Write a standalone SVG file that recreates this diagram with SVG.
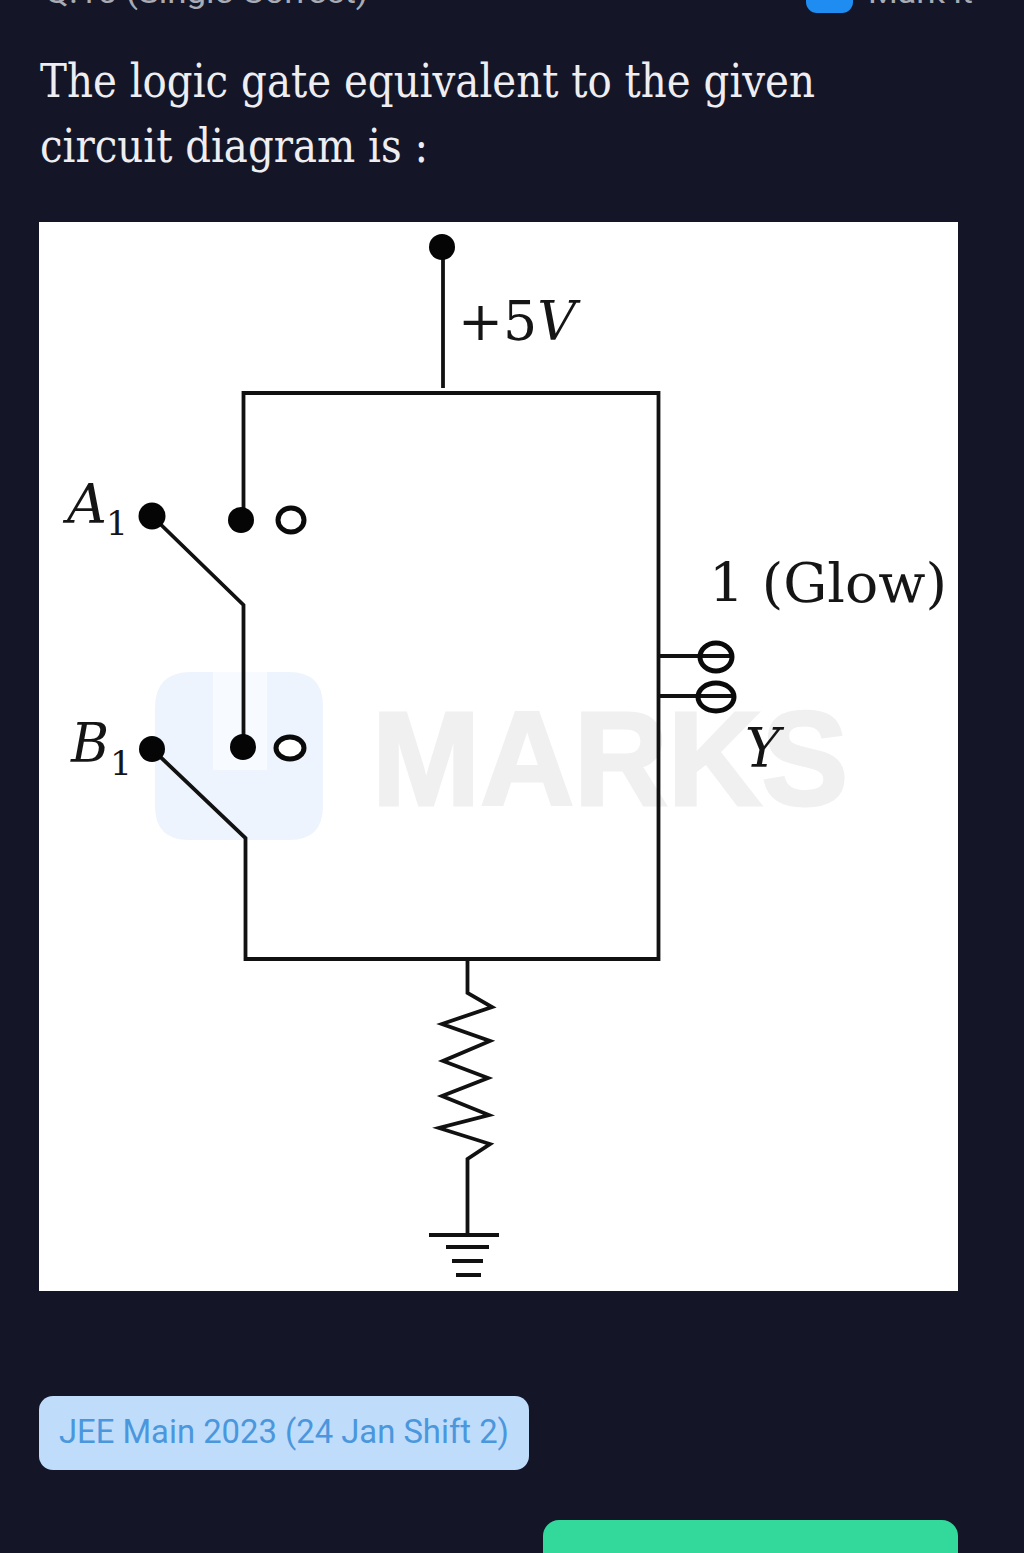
<svg xmlns="http://www.w3.org/2000/svg" width="1024" height="1553" viewBox="0 0 1024 1553">
<style>
.w{fill:none;stroke:#111;stroke-width:3.800;stroke-linejoin:miter}
.d{fill:#050505}
.o{fill:#fff;stroke:#0a0a0a;stroke-width:5}
.t{font-family:"DejaVu Serif",serif;fill:#151515}
.q{font-family:"DejaVu Serif",serif;fill:#eeeef2;font-size:47px}
.m{font-style:italic}
</style>
<rect width="1024" height="1553" fill="#141628"/>
<g id="header">
<text x="45" y="3" font-family="Roboto,sans-serif" font-size="31" fill="#a9abb5" textLength="323" lengthAdjust="spacingAndGlyphs">Q.10 (Single Correct)</text>
<rect x="806" y="-30" width="47" height="43" rx="11" fill="#1e8cf0"/>
<text x="868" y="3" font-family="Roboto,sans-serif" font-size="30" fill="#a9abb5" textLength="105" lengthAdjust="spacingAndGlyphs">Mark it</text>
</g>
<g id="question">
<text class="q" x="40" y="97" textLength="775" lengthAdjust="spacingAndGlyphs">The logic gate equivalent to the given</text>
<text class="q" x="40" y="162" textLength="388" lengthAdjust="spacingAndGlyphs">circuit diagram is :</text>
</g>
<rect id="panel" x="39" y="222" width="919" height="1069" fill="#fff"/>
<g id="watermark">
<path d="M191 672H213V770H267V672H289Q323 672 323 706V806Q323 840 289 840H189Q155 840 155 806V708Q155 672 191 672Z" fill="#edf4fd"/>
<path d="M213 672H267V770H213Z" fill="#f7fafe"/>
<text x="372" y="805" font-family="Liberation Sans,sans-serif" font-weight="700" font-size="133" fill="#f0f0f0" stroke="#f0f0f0" stroke-width="3" textLength="476" lengthAdjust="spacingAndGlyphs">MARKS</text>
</g>
<g id="connectors">
<path class="w" d="M443 247V388"/>
<path class="w" d="M243.500 520V393H658.500V959H245.500V838L152 749"/>
<path class="w" d="M152 516L243.500 605V747"/>
<path class="w" d="M658 656H732M658 696H734"/>
<path class="w" d="M467.500 957V993L492 1007L442 1024L490 1041L443 1061L488 1078L442 1096L489 1115L439 1128L490 1144L467.500 1159V1235"/>
</g>
<g id="supply"><circle class="d" cx="442" cy="247" r="13"/><text class="t" x="458" y="340" font-size="54" textLength="118" lengthAdjust="spacingAndGlyphs">+5<tspan class="m">V</tspan></text></g>
<g id="switch-a">
<circle class="d" cx="152" cy="516" r="13.500"/><circle class="d" cx="241" cy="520" r="13"/><ellipse class="o" cx="291" cy="520" rx="13" ry="12"/>
<text class="t m" x="67" y="523" font-size="54" textLength="40" lengthAdjust="spacingAndGlyphs">A</text><text class="t" x="106" y="535" font-size="34" textLength="22" lengthAdjust="spacingAndGlyphs">1</text>
</g>
<g id="switch-b">
<circle class="d" cx="152" cy="749" r="13"/><circle class="d" cx="243" cy="747" r="13"/><ellipse class="o" cx="290" cy="748" rx="14" ry="11"/>
<text class="t m" x="71" y="762" font-size="54" textLength="38" lengthAdjust="spacingAndGlyphs">B</text><text class="t" x="110" y="775" font-size="34" textLength="22" lengthAdjust="spacingAndGlyphs">1</text>
</g>
<g id="output">
<ellipse cx="716" cy="657" rx="16" ry="14" fill="none" stroke="#0a0a0a" stroke-width="5"/>
<ellipse cx="716" cy="697" rx="18" ry="14" fill="none" stroke="#0a0a0a" stroke-width="5"/>
<text class="t" x="709" y="602" font-size="54" textLength="238" lengthAdjust="spacingAndGlyphs">1 (Glow)</text>
<text class="t m" x="745" y="767" font-size="54" textLength="35" lengthAdjust="spacingAndGlyphs">Y</text>
</g>
<g id="ground">
<path class="w" d="M429 1235H499"/><path class="w" d="M446 1247H489M452 1261H483M456 1275H481"/>
</g>
<g id="tag">
<rect x="39" y="1396" width="490" height="74" rx="14" fill="#bfdcfb"/>
<text x="59" y="1443" font-family="Roboto,sans-serif" font-size="34" fill="#4a97dd" textLength="450" lengthAdjust="spacingAndGlyphs">JEE Main 2023 (24 Jan Shift 2)</text>
</g>
<rect id="action" x="543" y="1520" width="415" height="60" rx="16" fill="#33d89b"/>
</svg>
